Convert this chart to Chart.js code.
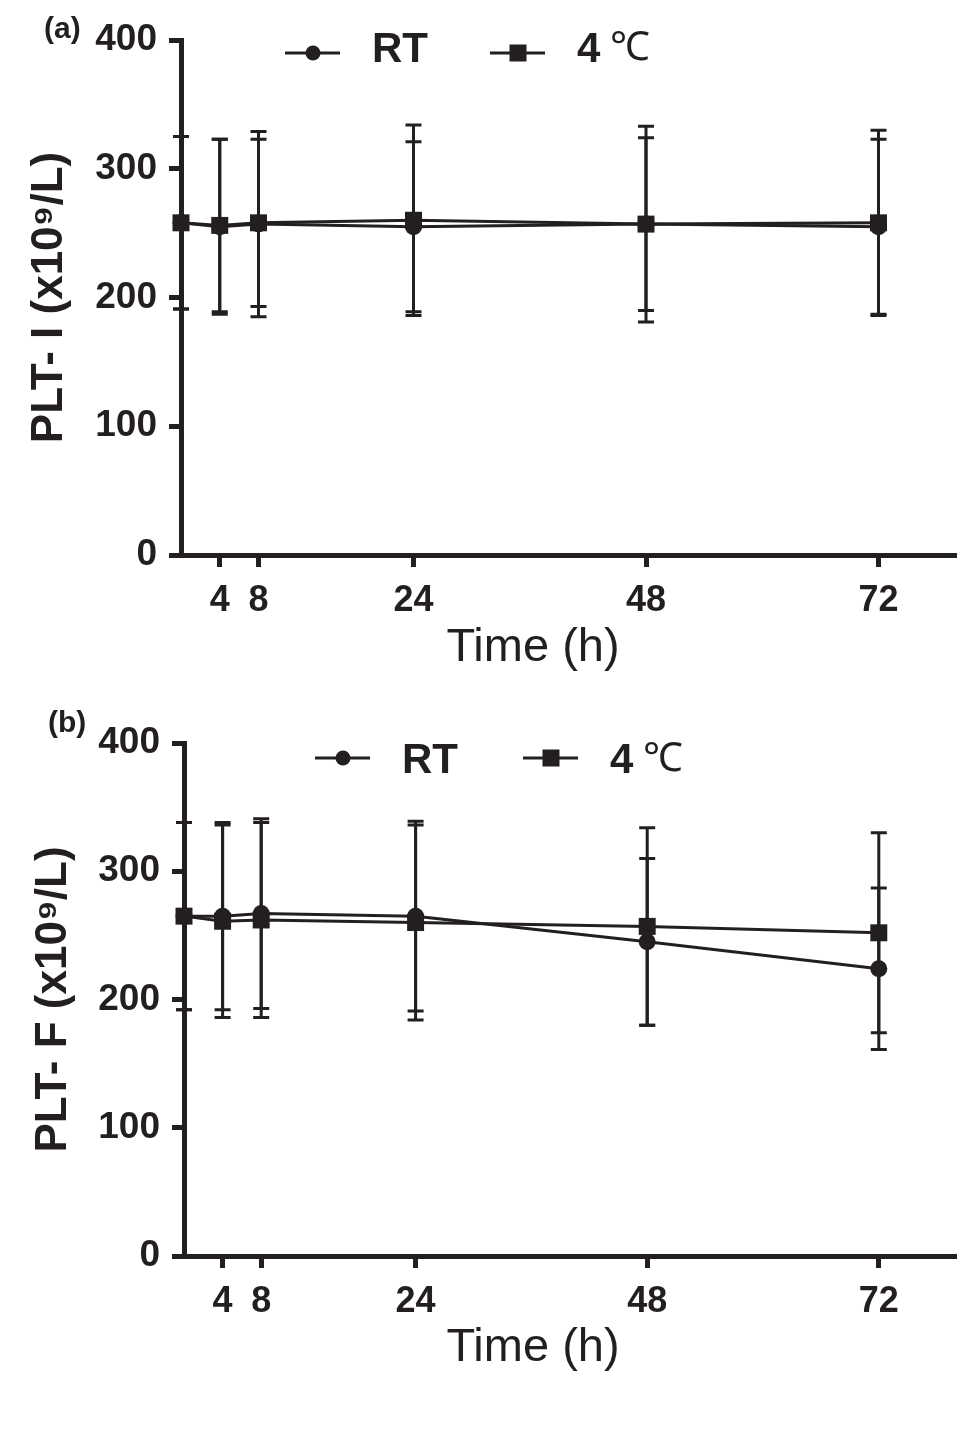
<!DOCTYPE html>
<html>
<head>
<meta charset="utf-8">
<title>PLT-I / PLT-F over time</title>
<script src="https://cdn.jsdelivr.net/npm/chart.js@4.4.0/dist/chart.umd.min.js"></script>
<style>
  body { margin: 0; background: #fff; }
  .panel { position: relative; width: 968px; }
  canvas { display: block; }
</style>
</head>
<body>
<div class="panel" style="height:700px"><canvas id="chart-a" width="968" height="700"></canvas></div>
<div class="panel" style="height:735px"><canvas id="chart-b" width="968" height="735"></canvas></div>
<script>
// Sampling times (h) and axis ticks
const hours = [0, 4, 8, 24, 48, 72];
const xTicks = [4, 8, 24, 48, 72];
const yTicks = [0, 100, 200, 300, 400];
const seriesNames = ['RT', '4 ℃'];

// Panel (a) PLT-I, mean and SD
const rtA = [258, 255, 257, 255, 257, 255];
const rtSdA = [67, 68, 72, 66, 67, 68];
const coldA = [258, 256, 258, 260, 257, 258];
const coldSdA = [67, 67, 65, 74, 76, 72];

// Panel (b) PLT-F, mean and SD
const rtB = [265, 265, 267, 265, 245, 224];
const rtSdB = [73, 73, 74, 74, 65, 63];
const coldB = [265, 261, 262, 260, 257, 252];
const coldSdB = [73, 75, 76, 76, 77, 78];

const INK = '#231f20';
const FONT = '"Liberation Sans", Arial, Helvetica, sans-serif';

// Draw mean ± SD whiskers through the chart scales
const errorBars = {
    id: 'errorBars',
    beforeDatasetsDraw(chart) {
        const { ctx, scales: { x, y } } = chart;
        ctx.save();
        ctx.strokeStyle = INK;
        ctx.lineWidth = 3;
        chart.data.datasets.forEach(ds => {
            ds.data.forEach((p, i) => {
                const sd = ds.sd[i];
                const px = x.getPixelForValue(p.x);
                const top = y.getPixelForValue(p.y + sd);
                const bot = y.getPixelForValue(p.y - sd);
                ctx.beginPath();
                ctx.moveTo(px, top); ctx.lineTo(px, bot);
                ctx.moveTo(px - 8, top); ctx.lineTo(px + 8, top);
                ctx.moveTo(px - 8, bot); ctx.lineTo(px + 8, bot);
                ctx.stroke();
            });
        });
        ctx.restore();
    }
};

// Legend, panel letter and x title
const decorations = {
    id: 'decorations',
    afterDraw(chart, args, o) {
        const ctx = chart.ctx;
        ctx.save();
        ctx.fillStyle = INK;
        ctx.strokeStyle = INK;

        chart.data.datasets.forEach((ds, i) => {
            const x0 = o.keyX[i];
            ctx.lineWidth = 3;
            ctx.beginPath();
            ctx.moveTo(x0, o.keyLineY);
            ctx.lineTo(x0 + 55, o.keyLineY);
            ctx.stroke();
            const mx = x0 + 28;
            if (ds.pointStyle === 'circle') {
                ctx.beginPath();
                ctx.arc(mx, o.keyLineY, 7.5, 0, Math.PI * 2);
                ctx.fill();
            } else {
                ctx.fillRect(mx - 8.5, o.keyLineY - 8.5, 17, 17);
            }
            // label: number/letters bold, degree sign regular
            const parts = ds.label.split(' ');
            ctx.textBaseline = 'alphabetic';
            ctx.textAlign = 'left';
            ctx.font = `bold 42px ${FONT}`;
            ctx.fillText(parts[0], x0 + 87, o.keyTextY);
            if (parts[1]) {
                const w = ctx.measureText(parts[0]).width;
                ctx.font = `40px ${FONT}`;
                ctx.fillText(parts[1], x0 + 87 + w + 10, o.keyTextY - 2);
            }
        });

        ctx.font = `bold 30px ${FONT}`;
        ctx.textAlign = 'left';
        ctx.fillText(o.letter, o.letterX, o.letterY);

        ctx.font = `47px ${FONT}`;
        ctx.textAlign = 'center';
        ctx.fillText('Time (h)', 533, o.xTitleY);
        ctx.restore();
    }
};

const toPoints = arr => hours.map((h, i) => ({ x: h, y: arr[i] }));

const makeDataset = (label, values, sd, style, radius) => ({
    label: label,
    data: toPoints(values),
    sd: sd,
    borderColor: INK,
    backgroundColor: INK,
    borderWidth: 3,
    pointStyle: style,
    pointRadius: radius,
    pointHoverRadius: radius,
    pointBackgroundColor: INK,
    pointBorderWidth: 0,
    tension: 0,
    clip: false
});

const buildChart = (canvasId, rt, rtSd, cold, coldSd, cfg) => {
    const ctx = document.getElementById(canvasId).getContext('2d');
    return new Chart(ctx, {
        type: 'line',
        data: {
            datasets: [
                makeDataset(seriesNames[0], rt, rtSd, 'circle', 8.5),
                makeDataset(seriesNames[1], cold, coldSd, 'rect', 12)
            ]
        },
        options: {
            responsive: false,
            animation: false,
            events: [],
            layout: { padding: { top: cfg.top, right: 10, left: 0, bottom: 0 } },
            plugins: {
                legend: { display: false },
                tooltip: { enabled: false },
                decorations: cfg.deco
            },
            scales: {
                x: {
                    type: 'linear',
                    min: 0,
                    max: 80,
                    afterBuildTicks: (scale) => { scale.ticks = xTicks.map(v => ({ value: v })); },
                    afterFit: (scale) => {
                        scale.height = cfg.xHeight;
                        scale.paddingLeft = 0;
                        scale.paddingRight = 0;
                    },
                    border: { display: true, color: INK, width: 5 },
                    grid: { drawOnChartArea: false, drawTicks: true, tickLength: 12, tickWidth: 5, tickColor: INK },
                    ticks: {
                        color: INK,
                        padding: 12,
                        maxRotation: 0,
                        autoSkip: false,
                        font: { family: FONT, size: 36, weight: 'bold' }
                    }
                },
                y: {
                    min: 0,
                    max: 400,
                    afterBuildTicks: (scale) => { scale.ticks = yTicks.map(v => ({ value: v })); },
                    afterFit: (scale) => { scale.width = cfg.yWidth; },
                    border: { display: true, color: INK, width: 5 },
                    grid: { drawOnChartArea: false, drawTicks: true, tickLength: 12, tickWidth: 5, tickColor: INK },
                    ticks: {
                        color: INK,
                        padding: 12,
                        font: { family: FONT, size: 37, weight: 'bold' }
                    },
                    title: {
                        display: true,
                        text: cfg.yTitle,
                        color: INK,
                        padding: { top: cfg.yTitlePad, bottom: 0 },
                        font: { family: FONT, size: 44, weight: 'bold' }
                    }
                }
            }
        },
        plugins: [errorBars, decorations]
    });
};

const setup = () => {
    buildChart('chart-a', rtA, rtSdA, coldA, coldSdA, {
        top: 40, xHeight: 145, yWidth: 181, yTitlePad: 23,
        yTitle: 'PLT- I (x10⁹/L)',
        deco: { keyX: [285, 490], keyLineY: 53, keyTextY: 62, letter: '(a)', letterX: 44, letterY: 38, xTitleY: 661 }
    });
    buildChart('chart-b', rtB, rtSdB, coldB, coldSdB, {
        top: 43, xHeight: 179, yWidth: 184, yTitlePad: 27,
        yTitle: 'PLT- F (x10⁹/L)',
        deco: { keyX: [315, 523], keyLineY: 58, keyTextY: 73, letter: '(b)', letterX: 48, letterY: 32, xTitleY: 661 }
    });
};

document.addEventListener('DOMContentLoaded', setup);
</script>
</body>
</html>
